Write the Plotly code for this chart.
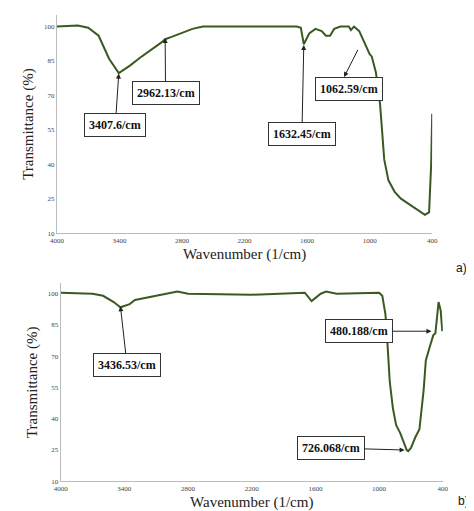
import plotly.graph_objects as go

wn_a = [4000,3800,3700,3600,3500,3407,3300,3200,3000,2962,2900,2700,2600,2000,1700,1660,1632,1580,1520,1460,1420,1380,1340,1280,1200,1180,1150,1100,1062,1000,980,940,900,860,820,760,700,600,520,470,430,410,400]
t_a  = [100,100.5,99.5,96,86,79.7,83,86.5,93,94.5,95.5,99,100,100,100,99.5,92.3,97,99,98,96,96,99,100,100,98.5,100,98,94,88,87,80,66,42,33,28,25,22,19.5,18,19,40,62]
wn_b = [4000,3700,3600,3500,3437,3350,3300,3100,2900,2800,2200,1700,1636,1550,1500,1400,1000,970,940,920,900,870,840,800,740,726,700,660,620,580,560,520,490,470,440,420,405]
t_b  = [100.5,100,99,96,93.5,95,97,99,101,100,99.5,100.5,96.5,100,101,100,100.5,99,90,75,58,45,37,33,25,24.5,26,31,35,54,68,75,80,81,96,92,82]
ticks_x = [4000,3400,2800,2200,1600,1000,400]
ticks_y = [10,25,40,55,70,85,100]

LC = "#3a5a22"
SERIF = "Liberation Serif"
fig = go.Figure()
fig.add_trace(go.Scatter(x=wn_a, y=t_a, mode="lines", line=dict(color=LC, width=2), xaxis="x", yaxis="y", showlegend=False))
fig.add_trace(go.Scatter(x=wn_b, y=t_b, mode="lines", line=dict(color=LC, width=2), xaxis="x2", yaxis="y2", showlegend=False))

ax_common = dict(tickvals=ticks_x, range=[4000,400], showgrid=False, zeroline=False,
                 showline=True, linecolor="#bbbbbb", ticks="", tickfont=dict(family=SERIF, size=7, color="#444"),
                 title_font=dict(family=SERIF, size=15, color="#222"), mirror=False)
ay_common = dict(tickvals=ticks_y, range=[10,105], showgrid=False, zeroline=False,
                 showline=True, linecolor="#bbbbbb", ticks="", tickfont=dict(family=SERIF, size=7, color="#444"),
                 title_font=dict(family=SERIF, size=15, color="#222"))
fig.update_layout(
    width=474, height=511, margin=dict(l=0, r=0, t=0, b=0),
    paper_bgcolor="white", plot_bgcolor="white",
    xaxis=dict(ax_common, domain=[0.091,0.905], anchor="y", title=dict(text="Wavenumber (1/cm)", standoff=4)),
    yaxis=dict(ay_common, domain=[0.556,0.986], anchor="x", title=dict(text="Transmittance (%)", standoff=6)),
    xaxis2=dict(ax_common, domain=[0.099,0.928], anchor="y2", title=dict(text="Wavenumber (1/cm)", standoff=4)),
    yaxis2=dict(ay_common, domain=[0.0665,0.457], anchor="x2", title=dict(text="Transmittance (%)", standoff=6)),
)

def box(xr, yr, x, y, text, tx=None, ty=None):
    d = dict(xref=xr, yref=yr, text=text, font=dict(family=SERIF, size=12, color="#111"),
             bgcolor="white", bordercolor="#333", borderwidth=1, borderpad=4)
    if tx is None:
        d.update(x=x, y=y, showarrow=False)
    else:
        d.update(x=tx, y=ty, ax=x, ay=y, axref=xr, ayref=yr, showarrow=True,
                 arrowhead=2, arrowsize=1, arrowwidth=1, arrowcolor="#222")
    return d

anns = [
    box("x","y",3440,57,"<b>3407.6/cm</b>",3407,79.5),
    box("x","y",2958,71,"<b>2962.13/cm</b>",2962,95),
    box("x","y",1650,53,"<b>1632.45/cm</b>",1632,92),
    box("x","y",1200,73,"<b>1062.59/cm</b>"),
    dict(xref="x", yref="y", x=1246, y=78, ax=1106, ay=90.5, axref="x", ayref="y", text="",
         showarrow=True, arrowhead=2, arrowwidth=1, arrowcolor="#222"),
    box("x2","y2",3375,66,"<b>3436.53/cm</b>",3437,94),
    box("x2","y2",1187,82,"<b>480.188/cm</b>",507,82),
    box("x2","y2",1453,26,"<b>726.068/cm</b>",760,25),
    dict(xref="paper", yref="paper", x=0.985, y=1-262/511, text="a)", showarrow=False,
         font=dict(family="Liberation Sans", size=12, color="#111")),
    dict(xref="paper", yref="paper", x=0.99, y=0.01, xanchor="right", yanchor="bottom", text="b)", showarrow=False,
         font=dict(family="Liberation Sans", size=12, color="#111")),
]
fig.update_layout(annotations=anns)
fig.write_html("out.html")
